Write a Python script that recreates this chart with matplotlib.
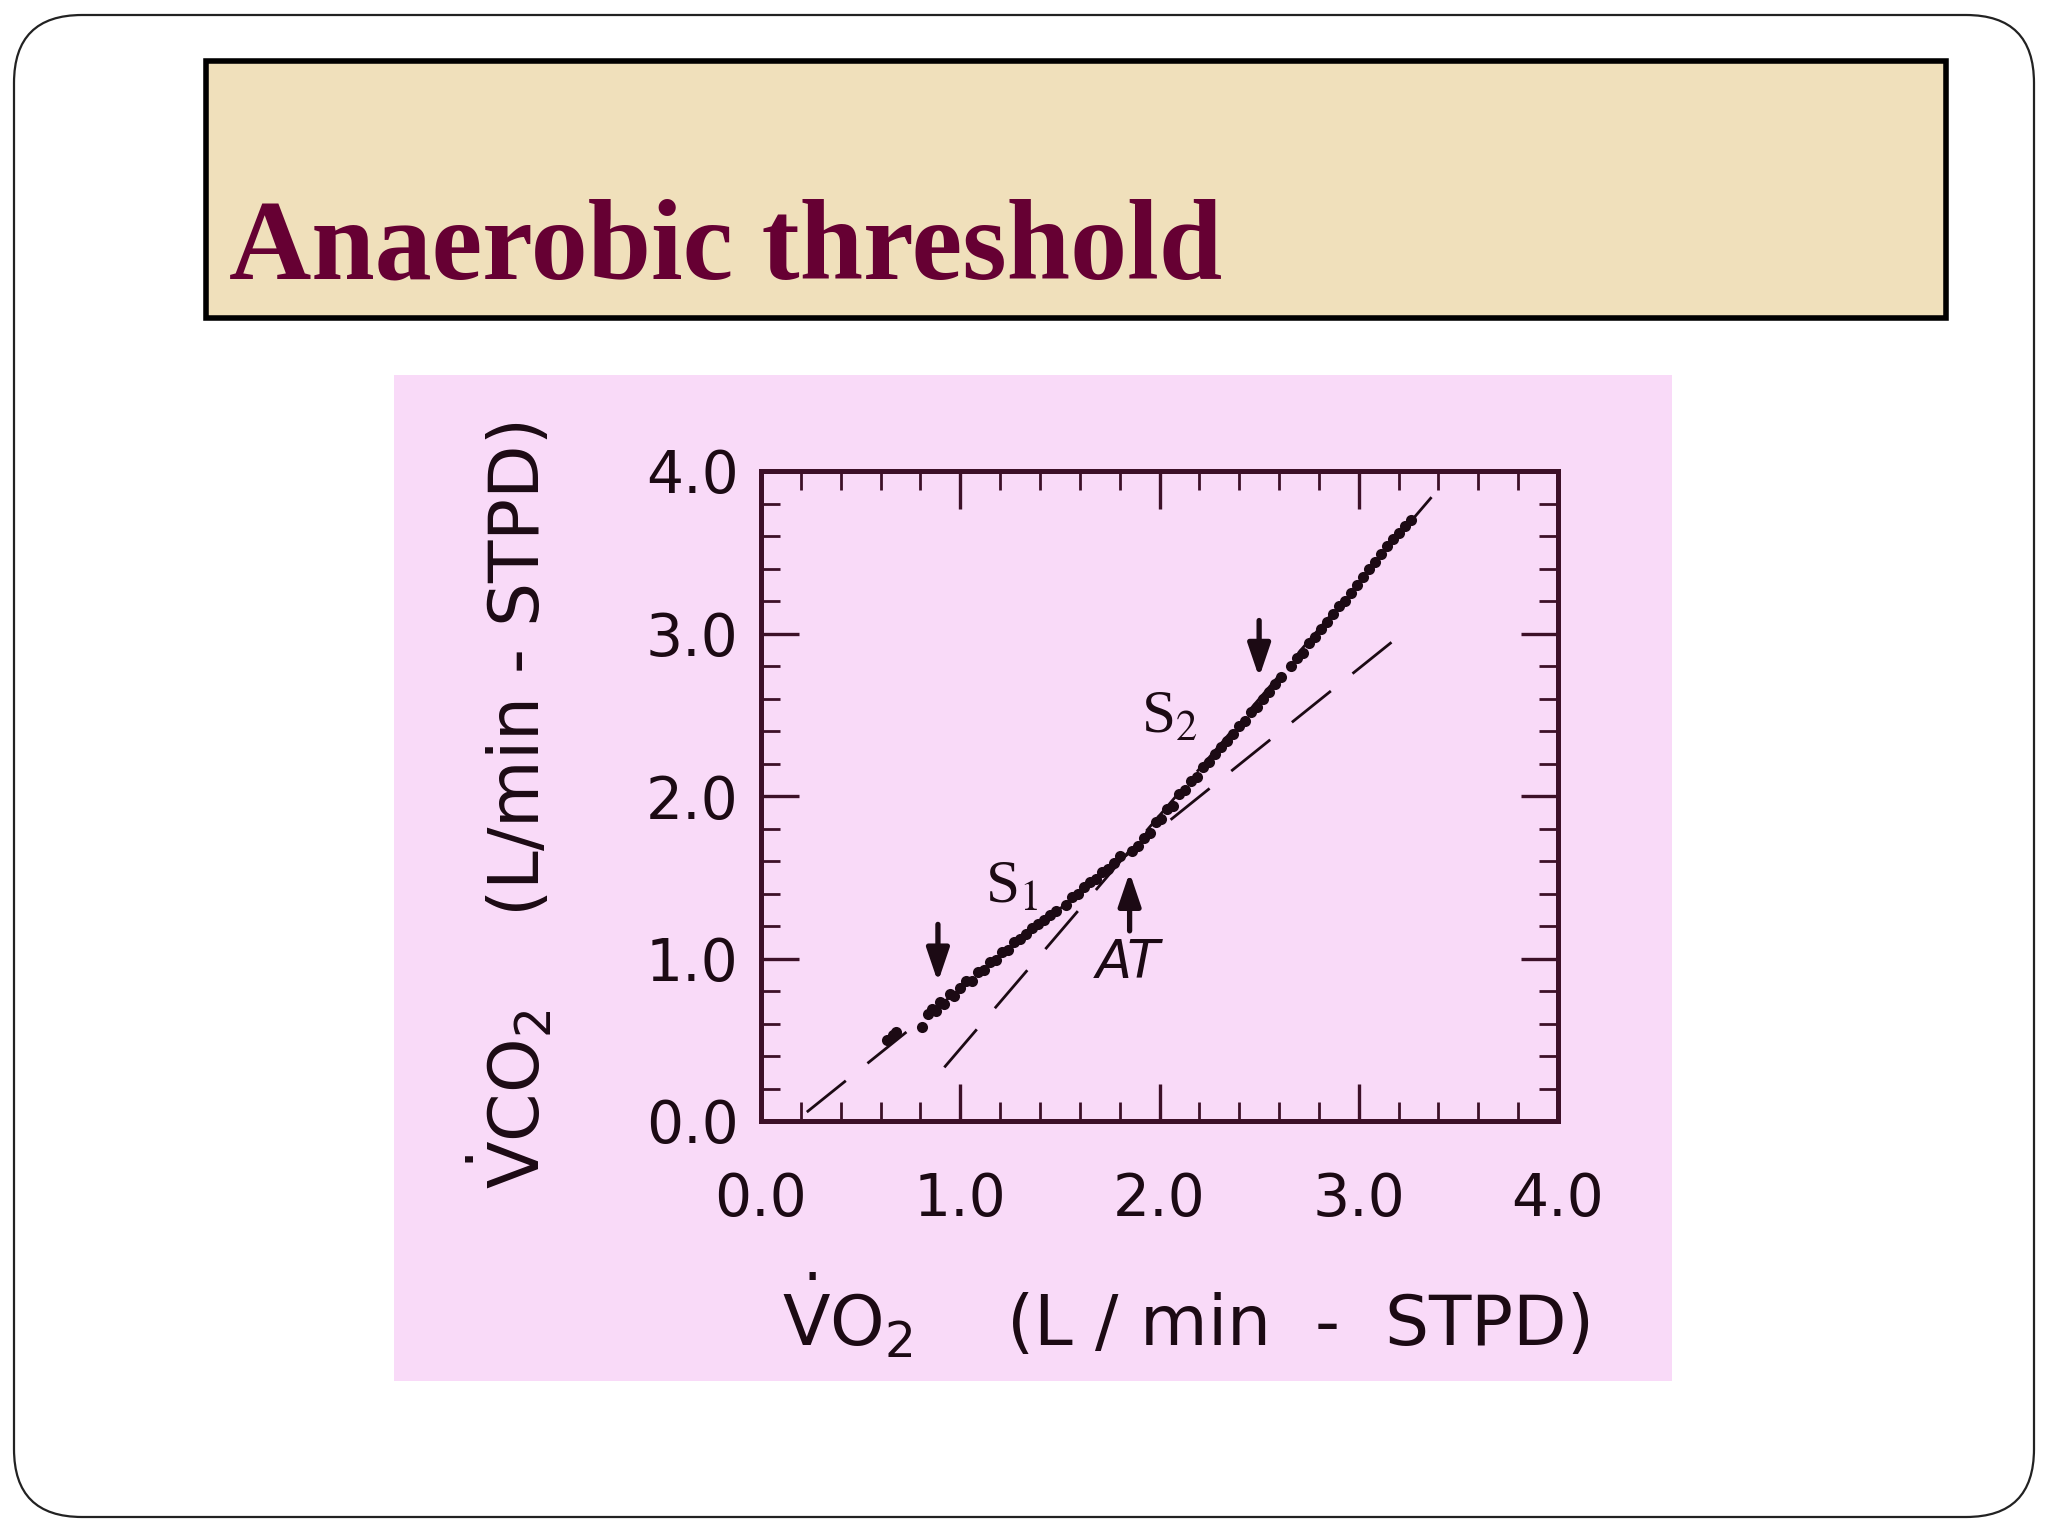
import matplotlib
matplotlib.use("Agg")
import matplotlib.pyplot as plt
from matplotlib.patches import FancyBboxPatch, Rectangle
from matplotlib.ticker import MultipleLocator

# breath-by-breath data (L/min)
vo2 = [0.63, 0.66, 0.68, 0.81,
       0.84, 0.86, 0.88, 0.90, 0.92, 0.95, 0.97, 1.00, 1.03, 1.06, 1.09, 1.12,
       1.15, 1.18, 1.21, 1.24, 1.27, 1.30, 1.33, 1.36, 1.39, 1.42, 1.45, 1.48,
       1.53, 1.56, 1.59, 1.62, 1.65, 1.68, 1.71, 1.74, 1.77, 1.80,
       1.86, 1.89, 1.92, 1.95, 1.98, 2.01, 2.04, 2.07, 2.10, 2.13, 2.16, 2.19,
       2.22, 2.25, 2.28, 2.31, 2.34, 2.37, 2.40, 2.43, 2.46, 2.49, 2.52, 2.55,
       2.58, 2.61,
       2.66, 2.69, 2.72, 2.75, 2.78, 2.81, 2.84, 2.87, 2.90, 2.93, 2.96, 2.99,
       3.02, 3.05, 3.08, 3.11, 3.14, 3.17, 3.20, 3.23, 3.26]
vco2 = [0.50, 0.53, 0.55, 0.58,
        0.66, 0.69, 0.68, 0.73, 0.72, 0.78, 0.77, 0.82, 0.86, 0.86, 0.92, 0.93,
        0.98, 0.99, 1.04, 1.05, 1.10, 1.12, 1.15, 1.19, 1.21, 1.24, 1.27, 1.29,
        1.33, 1.38, 1.40, 1.44, 1.47, 1.49, 1.53, 1.55, 1.59, 1.63,
        1.66, 1.69, 1.74, 1.77, 1.84, 1.86, 1.92, 1.94, 2.01, 2.04, 2.09, 2.12,
        2.18, 2.21, 2.26, 2.30, 2.34, 2.38, 2.43, 2.46, 2.52, 2.55, 2.60, 2.64,
        2.69, 2.73,
        2.80, 2.85, 2.88, 2.94, 2.98, 3.03, 3.07, 3.12, 3.17, 3.20, 3.25, 3.30,
        3.35, 3.40, 3.44, 3.49, 3.54, 3.58, 3.62, 3.66, 3.70]

# fitted slopes (dashed)
s1_x = [0.23, 3.27]
s1_y = [0.055, 3.05]
s2_x = [0.92, 3.38]
s2_y = [0.33, 3.86]

# arrows: (x, y_from, y_to)
arrows = [(0.888, 1.21, 0.855), (2.50, 3.08, 2.73), (1.85, 1.17, 1.53)]

tick_vals = [0, 1, 2, 3, 4]
tick_labels = ["0.0", "1.0", "2.0", "3.0", "4.0"]

PINK = "#F9DAF8"
INK = "#1c0a14"
AXC = "#3d1028"

plt.rcParams["mathtext.fontset"] = "dejavusans"
plt.rcParams["font.family"] = ["DejaVu Sans"]

fig = plt.figure(figsize=(10.24, 7.68), dpi=200)

# slide background, in pixel units
bg = fig.add_axes([0, 0, 1, 1])
bg.set_xlim(0, 2048)
bg.set_ylim(1536, 0)
bg.axis("off")
bg.add_patch(FancyBboxPatch((14, 15), 2020, 1502,
                            boxstyle="round,pad=0,rounding_size=68",
                            fc="white", ec="#222222", lw=0.8))
bg.add_patch(Rectangle((206, 61), 1740, 257, fc="#F0E0BB", ec="black", lw=2.0))
bg.text(229, 278, "Anaerobic threshold", family="Liberation Serif",
        weight="bold", size=41, color="#660033", va="baseline", ha="left")
bg.add_patch(Rectangle((394, 375), 1278, 1006, fc=PINK, ec="none"))

# chart
ax = fig.add_axes([761 / 2048, 1 - 1121 / 1536, 797 / 2048, 650 / 1536])
ax.set_facecolor(PINK)
ax.set_xlim(0, 4)
ax.set_ylim(0, 4)

ax.plot(s1_x, s1_y, color=INK, lw=1.0, dashes=(18, 10))
ax.plot(s2_x, s2_y, color=INK, lw=1.0, dashes=(18, 10))
ax.plot(vo2, vco2, ls="none", marker="o", ms=4.0, mew=0, color=INK)

for x, y0, y1 in arrows:
    ax.annotate("", xy=(x, y1), xytext=(x, y0),
                arrowprops=dict(arrowstyle="-|>,head_length=0.5,head_width=0.17",
                                mutation_scale=20, color=INK, lw=1.9,
                                shrinkA=0, shrinkB=0))

ax.text(1.84, 0.97, "AT", style="italic", size=19, color=INK,
        ha="center", va="center")
ax.text(1.26, 1.43, r"S$_1$", family="Liberation Serif", math_fontfamily="stix",
        size=22, color=INK, ha="center", va="center")
ax.text(2.05, 2.48, r"S$_2$", family="Liberation Serif", math_fontfamily="stix",
        size=22, color=INK, ha="center", va="center")

ax.set_xticks(tick_vals)
ax.set_xticklabels(tick_labels)
ax.set_yticks(tick_vals)
ax.set_yticklabels(tick_labels)
ax.xaxis.set_minor_locator(MultipleLocator(0.2))
ax.yaxis.set_minor_locator(MultipleLocator(0.2))
ax.tick_params(which="both", direction="in", top=True, right=True,
               color=AXC, labelcolor=INK)
ax.tick_params(which="major", length=13.5, width=1.2, labelsize=21)
ax.tick_params(which="minor", length=7, width=1.0)
ax.tick_params(axis="x", which="major", pad=18)
ax.tick_params(axis="y", which="major", pad=8)
for sp in ax.spines.values():
    sp.set_color(AXC)
    sp.set_linewidth(1.8)

ax.set_xlabel(r"$\dot{\mathrm{V}}$O$_2$    (L / min  -  STPD)", size=25,
              color=INK, va="center", ha="center")
ax.xaxis.set_label_coords(0.533, -0.30)
ax.set_ylabel(r"$\dot{\mathrm{V}}$CO$_2$    (L/min - STPD)", size=25,
              color=INK, va="center", ha="center")
ax.yaxis.set_label_coords(-0.315, 0.486)

fig.savefig("out.png", dpi=200)
